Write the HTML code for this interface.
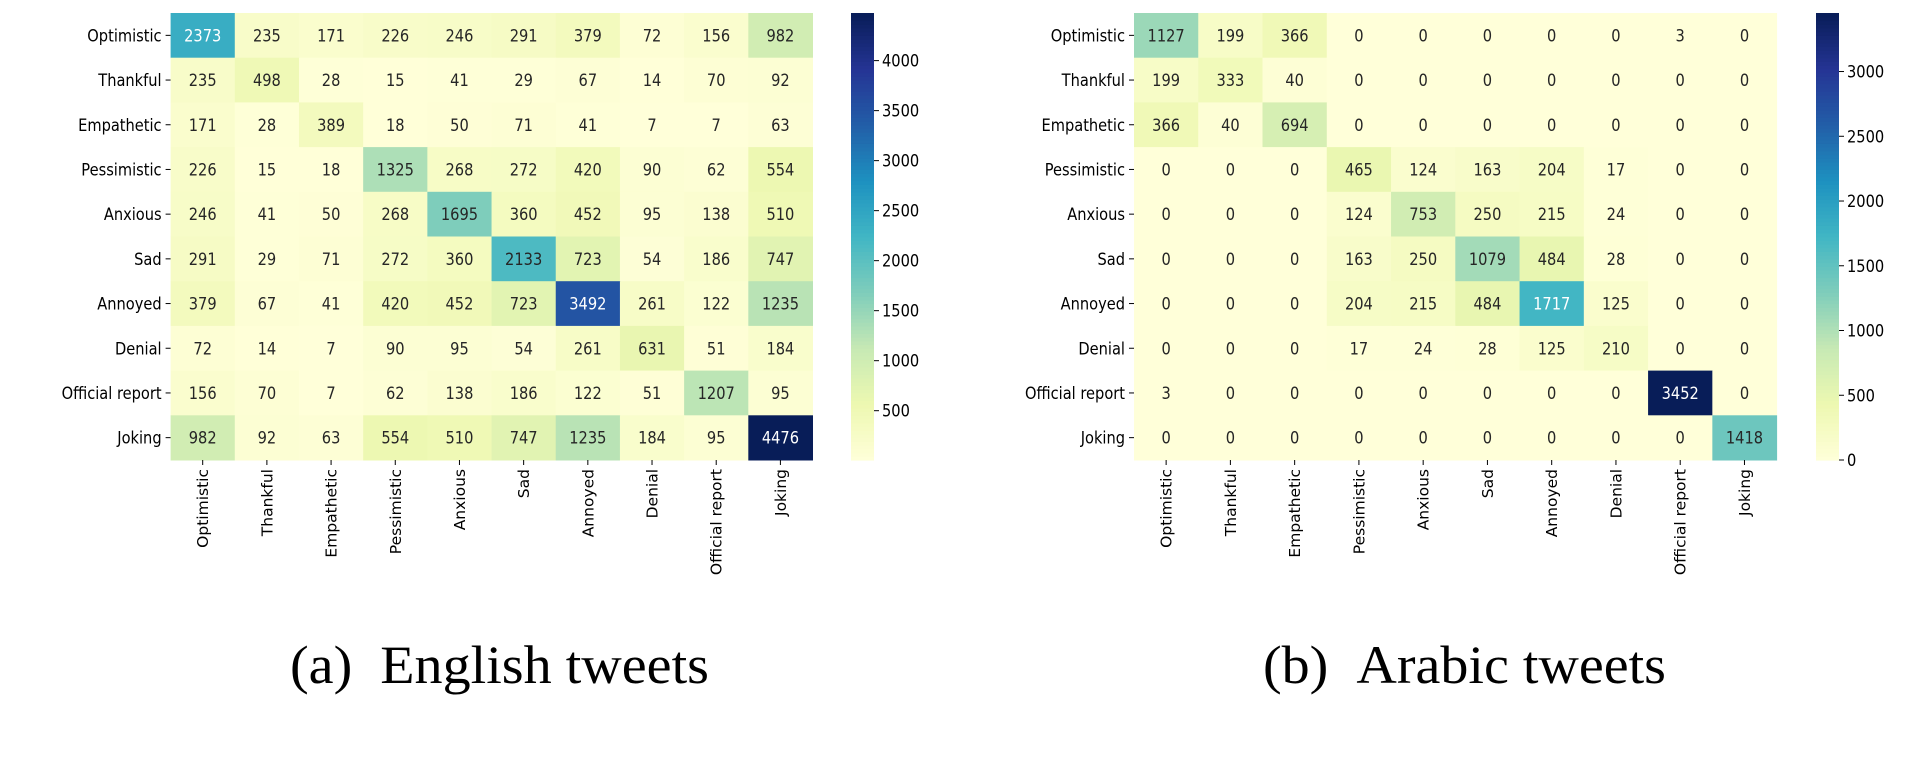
<!DOCTYPE html>
<html><head><meta charset="utf-8"><style>
html,body{margin:0;padding:0;background:#fff;width:1932px;height:764px;overflow:hidden}
svg text{font-family:"DejaVu Sans",sans-serif}
</style></head><body>
<svg id="s" width="1932" height="764" xmlns="http://www.w3.org/2000/svg"></svg>
<script>
const labels=["Optimistic","Thankful","Empathetic","Pessimistic","Anxious","Sad","Annoyed","Denial","Official report","Joking"];
const A=[[2373,235,171,226,246,291,379,72,156,982],[235,498,28,15,41,29,67,14,70,92],[171,28,389,18,50,71,41,7,7,63],[226,15,18,1325,268,272,420,90,62,554],[246,41,50,268,1695,360,452,95,138,510],[291,29,71,272,360,2133,723,54,186,747],[379,67,41,420,452,723,3492,261,122,1235],[72,14,7,90,95,54,261,631,51,184],[156,70,7,62,138,186,122,51,1207,95],[982,92,63,554,510,747,1235,184,95,4476]];
const B=[[1127,199,366,0,0,0,0,0,3,0],[199,333,40,0,0,0,0,0,0,0],[366,40,694,0,0,0,0,0,0,0],[0,0,0,465,124,163,204,17,0,0],[0,0,0,124,753,250,215,24,0,0],[0,0,0,163,250,1079,484,28,0,0],[0,0,0,204,215,484,1717,125,0,0],[0,0,0,17,24,28,125,210,0,0],[3,0,0,0,0,0,0,0,3452,0],[0,0,0,0,0,0,0,0,0,1418]];
const stops=["#ffffd9","#edf8b1","#c7e9b4","#7fcdbb","#41b6c4","#1d91c0","#225ea8","#253494","#081d58"].map(h=>[1,3,5].map(i=>parseInt(h.substr(i,2),16)));
function cmap(t){t=Math.max(0,Math.min(1,t));const p=t*8,i=Math.min(7,Math.floor(p)),f=p-i;return stops[i].map((v,k)=>v+(stops[i+1][k]-v)*f);}
function rgb(c){return `rgb(${c.map(Math.round).join(",")})`}
function lum(c){const l=c.map(v=>{v/=255;return v<=0.03928?v/12.92:Math.pow((v+0.055)/1.055,2.4)});return 0.2126*l[0]+0.7152*l[1]+0.0722*l[2];}
let out="";
function draw(M,x0,x1,vmin,vmax,cbx,ticks,cap,capx,capw){
 const y0=13,y1=460,cw=(x1-x0)/10,ch=(y1-y0)/10;
 for(let r=0;r<10;r++)for(let c=0;c<10;c++){
  const col=cmap((M[r][c]-vmin)/(vmax-vmin));
  const x=x0+c*cw,y=y0+r*ch;
  out+=`<rect x="${x}" y="${y}" width="${cw+0.5}" height="${ch+0.5}" fill="${rgb(col)}"/>`;
  const tc=lum(col)>0.408?"#262626":"#fff";
  out+=`<text transform="translate(${x+cw/2},${y+ch/2+6}) scale(0.86,1)" text-anchor="middle" font-size="17" fill="${tc}">${M[r][c]}</text>`;
 }
 for(let i=0;i<10;i++){
  const yc=y0+(i+0.5)*ch;
  out+=`<line x1="${x0-5}" x2="${x0}" y1="${yc}" y2="${yc}" stroke="#000" stroke-width="1"/>`;
  out+=`<text transform="translate(${x0-9},${yc+6}) scale(0.86,1)" text-anchor="end" font-size="17" fill="#000">${labels[i]}</text>`;
  const xc=x0+(i+0.5)*cw;
  out+=`<line x1="${xc}" x2="${xc}" y1="${y1}" y2="${y1+5}" stroke="#000" stroke-width="1"/>`;
  out+=`<text transform="translate(${xc+5.5},${y1+9}) rotate(-90)" text-anchor="end" font-size="15.5" fill="#000">${labels[i]}</text>`;
 }
 const n=120,h=(y1-y0)/n;
 for(let i=0;i<n;i++){out+=`<rect x="${cbx}" y="${y1-(i+1)*h}" width="23" height="${h+0.6}" fill="${rgb(cmap((i+0.5)/n))}"/>`;}
 for(const t of ticks){const y=y1-(t-vmin)/(vmax-vmin)*(y1-y0);
  out+=`<line x1="${cbx+23}" x2="${cbx+28}" y1="${y}" y2="${y}" stroke="#000"/>`;
  out+=`<text transform="translate(${cbx+31},${y+6}) scale(0.86,1)" font-size="17" fill="#000">${t}</text>`;}
 out+=`<text x="${capx}" y="683" font-size="54" textLength="${capw}" lengthAdjust="spacingAndGlyphs" fill="#000" style="font-family:'Liberation Serif',serif">${cap}</text>`;
}
draw(A,170.6,812.5,7,4476,851,[500,1000,1500,2000,2500,3000,3500,4000],"(a)\u2002English tweets",290,419);
draw(B,1134,1776.6,0,3452,1816,[0,500,1000,1500,2000,2500,3000],"(b)\u2002Arabic tweets",1263,403);
document.getElementById("s").innerHTML=out;
</script>
</body></html>
